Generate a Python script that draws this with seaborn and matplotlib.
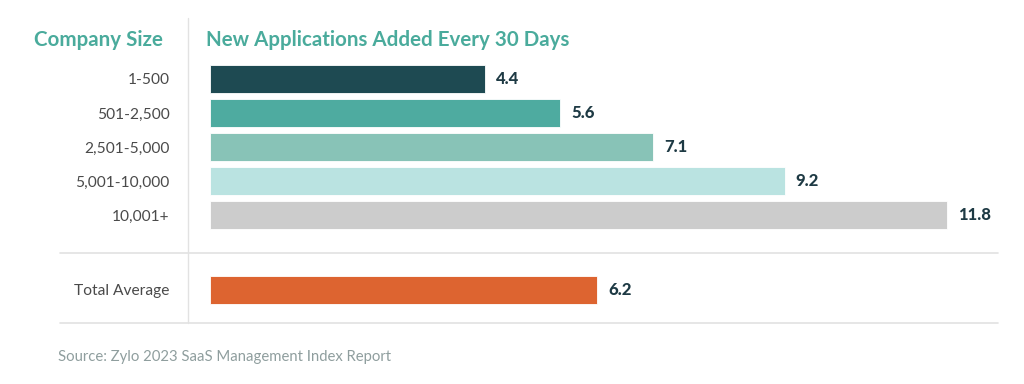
import matplotlib
matplotlib.use("Agg")
import matplotlib.pyplot as plt
from matplotlib.lines import Line2D
import pandas as pd
import seaborn as sns

sizes = ["1-500", "501-2,500", "2,501-5,000", "5,001-10,000", "10,001+"]
size_values = [4.4, 5.6, 7.1, 9.2, 11.8]
size_colors = ["#1e4a52", "#4eaba0", "#88c3b7", "#bae3e1", "#cccccc"]
total_label = ["Total Average"]
total_value = [6.2]
total_color = ["#dd6430"]

W, H = 1024, 384
TEAL = "#4aab9c"
VALUE_COLOR = "#1e3a44"
LABEL_COLOR = "#4a4a4a"
LINE_COLOR = "#e2e2e2"


def px_rect(left, top, right, bottom):
    return [left / W, 1 - bottom / H, (right - left) / W, (bottom - top) / H]


def draw_bars(ax, labels, values, colors, nrows):
    df = pd.DataFrame({"label": labels, "value": values})
    sns.barplot(data=df, x="value", y="label", hue="label", palette=colors,
                legend=False, width=0.82, edgecolor="white", linewidth=0.6,
                saturation=1, ax=ax)
    ax.set_xlim(0, 788 / 62.46)
    ax.set_ylim(nrows - 0.5, -0.5)
    ax.set_xlabel("")
    ax.set_ylabel("")
    ax.set_xticks([])
    ax.tick_params(axis="y", length=0, pad=29, labelsize=11.2,
                   labelcolor=LABEL_COLOR)
    for s in ax.spines.values():
        s.set_visible(False)
    for bar, v in zip(ax.patches, values):
        ax.text(bar.get_width() + 0.18, bar.get_y() + bar.get_height() / 2,
                f"{v:.1f}", va="center", ha="left", fontsize=12,
                fontweight="black", color=VALUE_COLOR)


sns.set_theme(style="white")
plt.rcParams["font.family"] = ["Lato", "DejaVu Sans"]

fig = plt.figure(figsize=(W / 100, H / 100), dpi=100)
ax_top = fig.add_axes(px_rect(210, 62, 998, 232))
ax_top.patch.set_alpha(0)
draw_bars(ax_top, sizes, size_values, size_colors, 5)

ax_bot = fig.add_axes(px_rect(210, 273, 998, 307))
ax_bot.patch.set_alpha(0)
draw_bars(ax_bot, total_label, total_value, total_color, 1)

# titles
fig.text(163 / W, 1 - 40 / H, "Company Size", ha="right", va="center",
         fontsize=14.8, fontweight="bold", color=TEAL)
fig.text(206 / W, 1 - 40 / H, "New Applications Added Every 30 Days",
         ha="left", va="center", fontsize=14.8, fontweight="bold", color=TEAL)

# divider lines
fig.add_artist(Line2D([188 / W, 188 / W], [1 - 18 / H, 1 - 323 / H],
                      color=LINE_COLOR, lw=1))
for y in (253, 323):
    fig.add_artist(Line2D([60 / W, 998 / W], [1 - y / H, 1 - y / H],
                          color=LINE_COLOR, lw=1.2))

fig.text(58 / W, 1 - 357 / H, "Source: Zylo 2023 SaaS Management Index Report",
         ha="left", va="center", fontsize=10.7, color="#8f9e9e")

fig.savefig("out.png", dpi=100, facecolor="white")
